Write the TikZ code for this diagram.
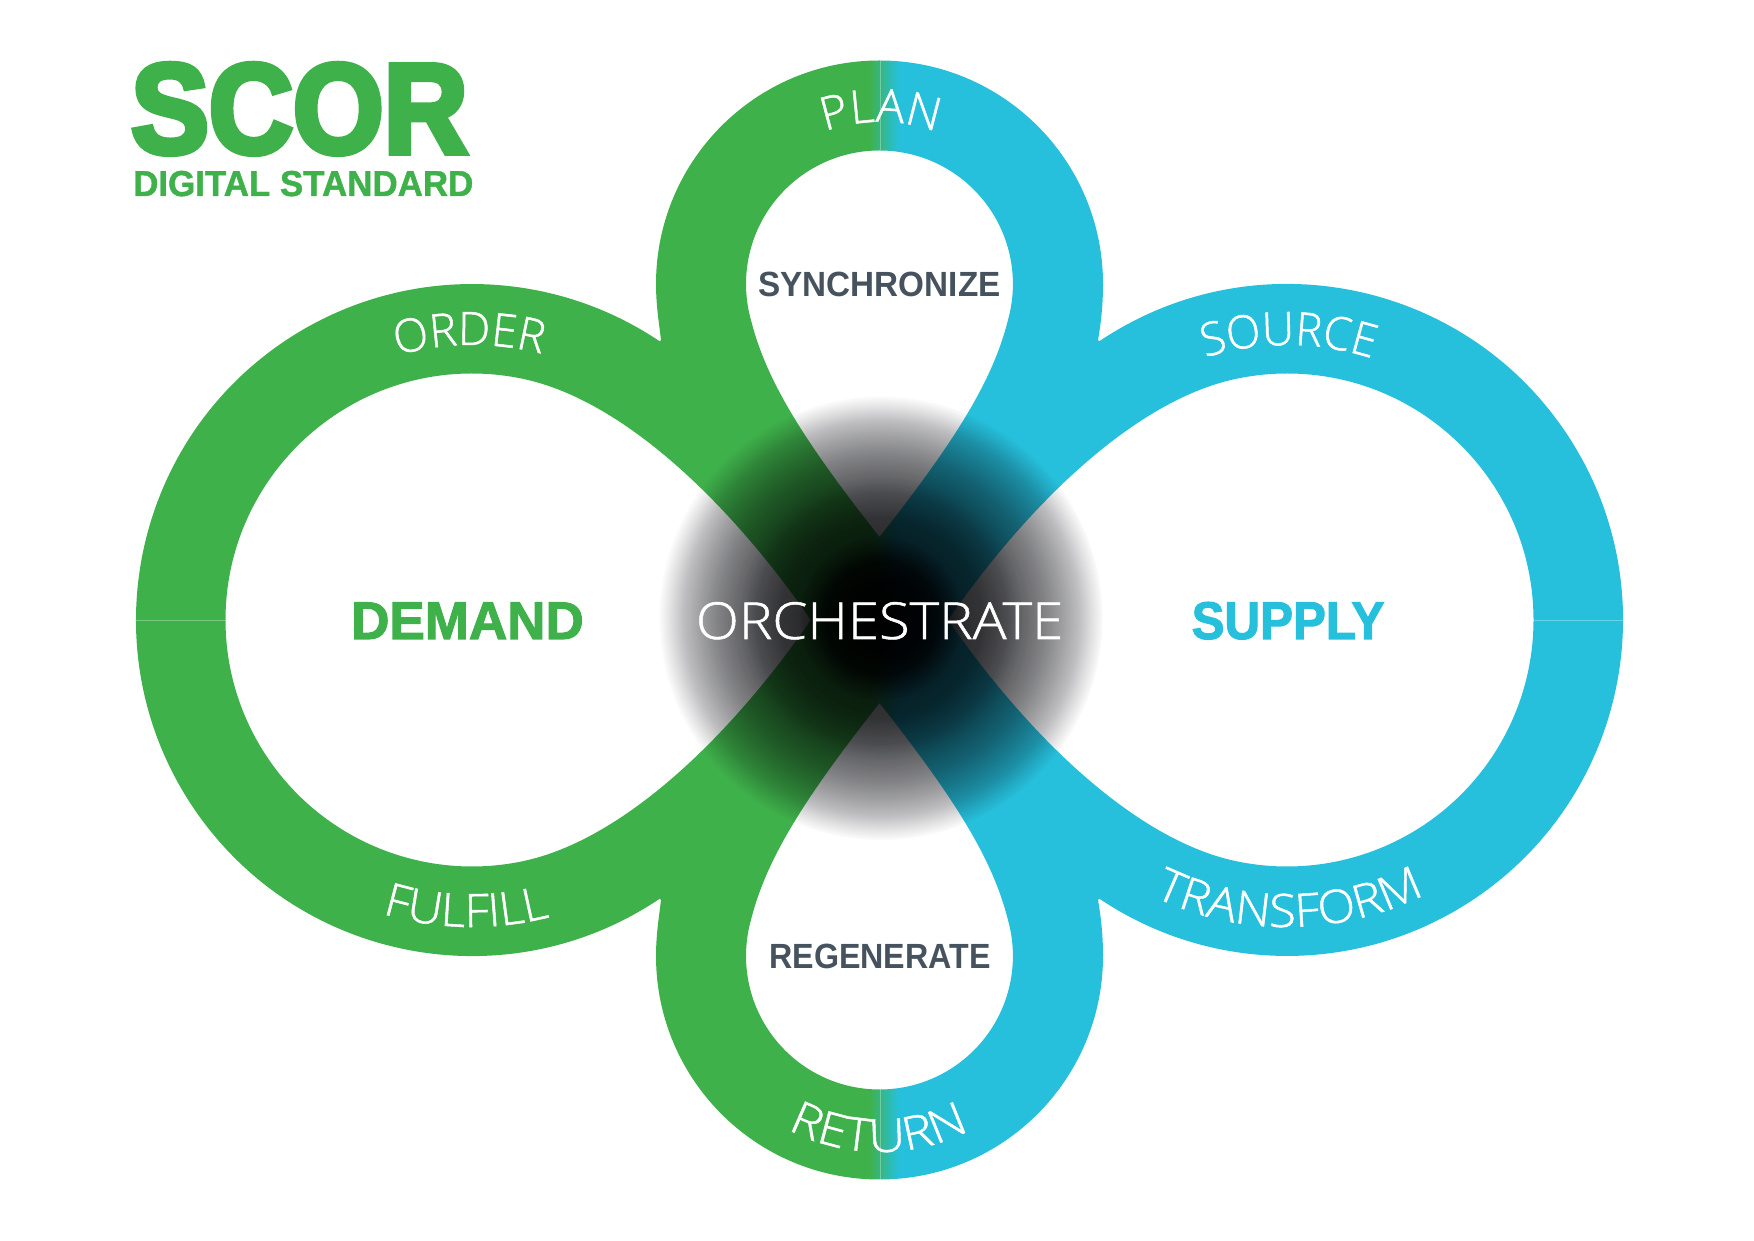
\documentclass[tikz,border=0pt]{standalone}
\usepackage{fontspec}
\usetikzlibrary{fadings,decorations.text}
\setmainfont{Liberation Sans}
\newfontfamily\scorfont[BoldFeatures={FakeBold=4.5,FakeStretch=.91}]{Liberation Sans}
\newfontfamily\subfont[BoldFeatures={FakeStretch=.97,FakeBold=1.2}]{Liberation Sans}
\newfontfamily\heavyfont[BoldFeatures={FakeBold=2,FakeStretch=1}]{Liberation Sans}
\newfontfamily\supplyfont[BoldFeatures={FakeBold=2,FakeStretch=.93}]{Liberation Sans}
\newfontfamily\darkfont[BoldFeatures={FakeStretch=.95}]{Liberation Sans}
\newfontfamily\regenfont[BoldFeatures={FakeStretch=.92}]{Liberation Sans}
\newfontfamily\lightfont[FakeStretch=1.105,FakeBold=1]{Open Sans Light}
\newfontfamily\fcOrder[FakeStretch=.99,FakeBold=1]{Open Sans Light}
\newfontfamily\fcFul[FakeStretch=1.05,FakeBold=1]{Open Sans Light}
\newfontfamily\fcSrc[FakeStretch=.97,FakeBold=1]{Open Sans Light}
\newfontfamily\fcTra[FakeStretch=1.07,FakeBold=1]{Open Sans Light}
\newfontfamily\fcRet[FakeStretch=1.11,FakeBold=1]{Open Sans Light}
\newfontfamily\fcPlan[FakeStretch=1.02,FakeBold=1]{Open Sans Light}
\definecolor{sg}{HTML}{3FB14B}
\definecolor{sb}{HTML}{27C0DC}
\definecolor{sd}{HTML}{46535F}
\definecolor{blobc}{HTML}{1C1D24}
\definecolor{a100}{gray}{1}
\definecolor{a98}{gray}{.98}
\definecolor{a86}{gray}{.86}
\definecolor{a84}{gray}{.84}
\definecolor{a75}{gray}{.75}
\definecolor{a65}{gray}{.65}
\definecolor{a53}{gray}{.53}
\definecolor{a40}{gray}{.40}
\definecolor{a28}{gray}{.28}
\definecolor{a13}{gray}{.13}
\definecolor{a00}{gray}{0}
\pgfdeclarehorizontalshading{bandfill}{100bp}{color(0bp)=(sg); color(49.68bp)=(sg); color(50.59bp)=(sb); color(100bp)=(sb)}
\pgfdeclareradialshading{blobs}{\pgfpointorigin}{color(0bp)=(a100); color(4.5bp)=(a100); color(6.5bp)=(a98); color(9.35bp)=(a86); color(11.3bp)=(a84); color(14.1bp)=(a75); color(15.8bp)=(a65); color(18.4bp)=(a53); color(20.5bp)=(a40); color(22.2bp)=(a28); color(23.65bp)=(a13); color(25bp)=(a00); color(50bp)=(a00)}
\pgfdeclarefading{blobf}{\pgfuseshading{blobs}}
\tikzset{
  lbl/.style={inner sep=0pt,anchor=base},
  curved/.style 2 args={decorate,decoration={text along path,text align=center,text={|#1\fontsize{46}{50}\selectfont\color{white}|#2}}},
  hair/.style={white,opacity=.3,line width=.8pt}
}
\begin{document}
\begin{tikzpicture}[x=1pt,y=1pt]
\useasboundingbox (0,0) rectangle (1754,1240);
\fill[white] (0,0) rectangle (1754,1240);
% the band, with its four holes
\shade[shading=bandfill,even odd rule]
  (879.5,1179.5) arc[start angle=90,end angle=0,radius=223.5]
  .. controls (1103,935) and (1101,917) .. (1098,900)
  -- (1099.1,898.6) arc[start angle=124,end angle=-124,radius=336]
  -- (1098,340)
  .. controls (1101,323) and (1103,305) .. (1103,284)
  arc[start angle=0,end angle=-180,radius=223.5]
  .. controls (656,305) and (659,323) .. (661,340)
  -- (659.9,341.4) arc[start angle=-56,end angle=-304,radius=336]
  -- (661,900)
  .. controls (659,917) and (656,935) .. (656,956)
  arc[start angle=180,end angle=90,radius=223.5] -- cycle
  % top teardrop
  (879.5,1089.5) arc[start angle=90,end angle=195.6,radius=133.5]
  .. controls (766,860) and (803,800) .. (879.5,703)
  .. controls (956,800) and (993,860) .. (1008,920.1)
  arc[start angle=-15.6,end angle=90,radius=133.5] -- cycle
  % bottom teardrop
  (879.5,150.5) arc[start angle=270,end angle=164.4,radius=133.5]
  .. controls (766,380) and (803,440) .. (879.5,537)
  .. controls (956,440) and (993,380) .. (1008,319.9)
  arc[start angle=15.6,end angle=-90,radius=133.5] -- cycle
  % left lobe
  (472,866.5) arc[start angle=90,end angle=282,radius=246.5]
  .. controls (623,400) and (730,503) .. (811,620)
  .. controls (730,737) and (623,840) .. (523.2,861.1)
  arc[start angle=78,end angle=90,radius=246.5] -- cycle
  % right lobe
  (1287,866.5) arc[start angle=90,end angle=-102,radius=246.5]
  .. controls (1136,400) and (1029,503) .. (948,620)
  .. controls (1029,737) and (1136,840) .. (1235.8,861.1)
  arc[start angle=102,end angle=90,radius=246.5] -- cycle;
% hairline joints
\draw[hair] (136,620) -- (225.5,620);
\draw[hair] (1533.5,620) -- (1623,620);
\draw[hair] (880,1179.5) -- (880,1089.5);
\draw[hair] (880,150.5) -- (880,60.5);
% dark centre
\shade[blend mode=multiply,inner color=black,outer color=blobc,path fading=blobf] (881,622) circle[radius=222];
% curved labels
\path[curved={\fcPlan}{PLAN}] (879.5,956) ++(129.6:162) arc[start angle=129.6,end angle=49.6,radius=162];
\path[curved={\fcRet}{RETURN}] (879.5,284) ++(219.67:196) arc[start angle=219.67,end angle=319.67,radius=196];
\path[curved={\fcOrder}{ORDER}] (472,620) ++(130.58:275) arc[start angle=130.58,end angle=50.58,radius=275];
\path[curved={\fcFul}{FULFILL}] (472,620) ++(228.85:307) arc[start angle=228.85,end angle=308.85,radius=307];
\path[curved={\fcSrc}{SOURCE}] (1287,620) ++(129.65:275) arc[start angle=129.65,end angle=49.65,radius=275];
\path[curved={\fcTra}{TRANSFORM}] (1287,620) ++(230.42:307) arc[start angle=230.42,end angle=310.42,radius=307];
% straight labels
\node[lbl,anchor=base west,text=sg,font={\scorfont\bfseries\fontsize{128}{130}\selectfont}] (scor) at (131,1087) {SCOR};
\node[lbl,anchor=base west,text=sg,font={\subfont\bfseries\fontsize{36}{40}\selectfont}] (dstd) at (133,1044) {DIGITAL STANDARD};
\node[lbl,text=sg,font={\heavyfont\bfseries\fontsize{53}{56}\selectfont}] (demand) at (467.5,601) {DEMAND};
\node[lbl,text=sb,font={\supplyfont\bfseries\fontsize{53}{56}\selectfont}] (supply) at (1288,601) {SUPPLY};
\node[lbl,text=white,font={\lightfont\fontsize{51}{56}\selectfont}] (orch) at (879.5,601) {ORCHESTRATE};
\node[lbl,text=sd,font={\darkfont\bfseries\fontsize{35}{40}\selectfont}] (sync) at (879.5,943) {SYNCHRONIZE};
\node[lbl,text=sd,font={\regenfont\bfseries\fontsize{35}{40}\selectfont}] (regen) at (880,271) {REGENERATE};
\end{tikzpicture}
\end{document}
